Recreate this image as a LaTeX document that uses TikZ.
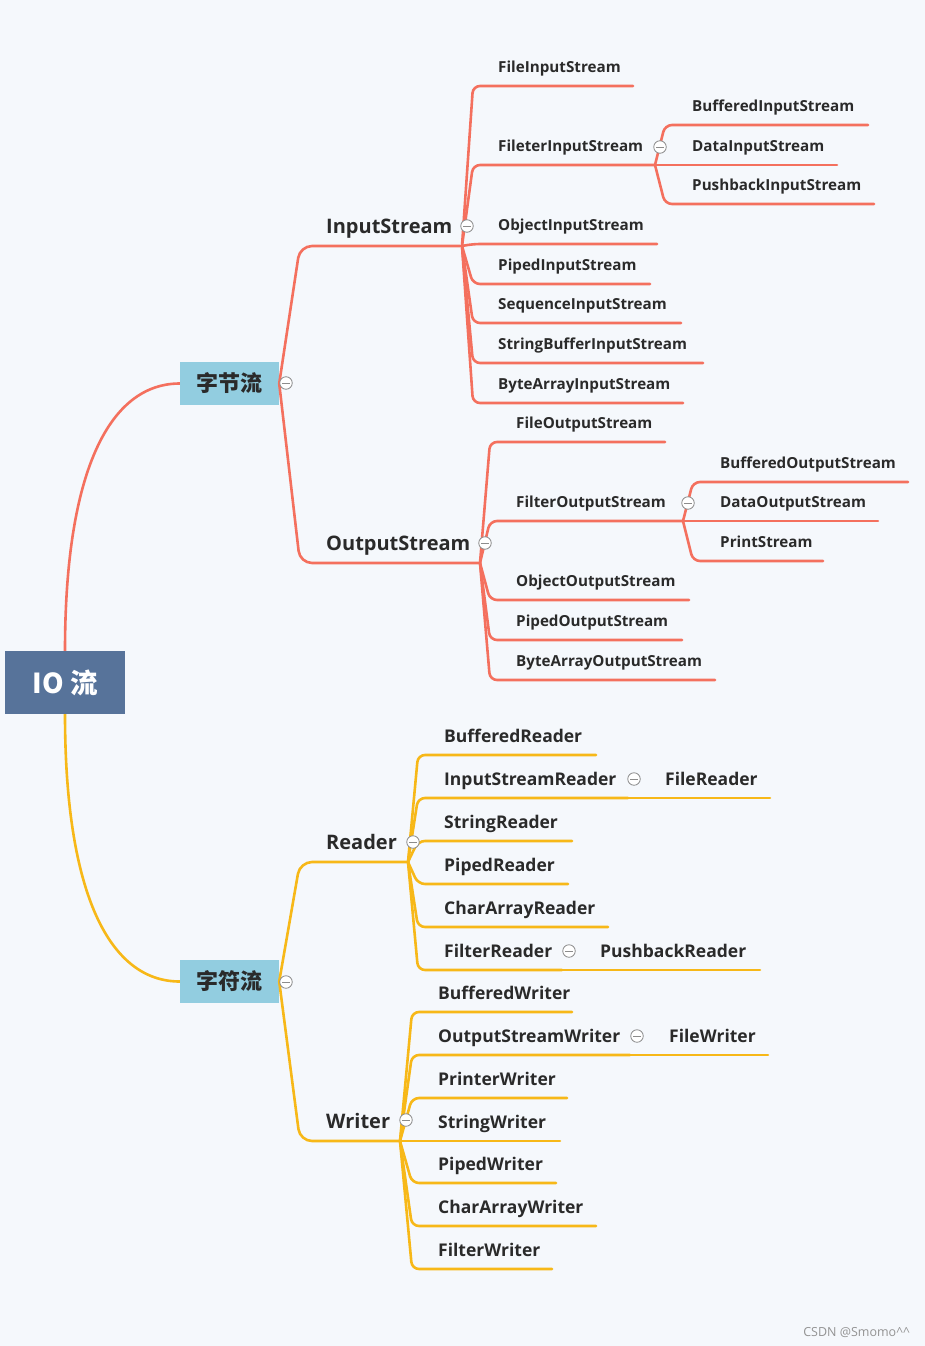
\documentclass[tikz,border=0pt]{standalone}
\usepackage{fontspec}
\setmainfont{Open Sans}
\newfontfamily\cjk{Noto Sans CJK SC}
\definecolor{bg}{HTML}{F5F8FC}
\definecolor{redl}{HTML}{F4705E}
\definecolor{yell}{HTML}{F7B818}
\definecolor{rootc}{HTML}{57739A}
\definecolor{boxc}{HTML}{92CDE0}
\definecolor{txtc}{HTML}{2A2A2A}
\definecolor{colc}{HTML}{8C8C8C}
\newcommand\leaf[8]{%
  \coordinate (#1s) at (#3,#4);
  \coordinate (#1e) at (#5,#4);
  \draw[br] (#2) -- (#1s) -- (#1e);
  \node[lbl, anchor=base west] (#1) at (#6,#4-#7) {#8};}
\newcommand\tailleaf[7]{% name, from, endx, uy, textx, offset, text
  \coordinate (#1e) at (#3,#4);
  \draw[br, sharp corners] (#2) -- (#1e);
  \node[lbl, anchor=base west] (#1) at (#5,#4-#6) {#7};}
\begin{document}
\begin{tikzpicture}[x=1pt,y=-1pt,
  br/.style={line width=2.6pt, rounded corners=7pt, line cap=round, draw=redl},
  lbl/.style={inner sep=0pt, text=txtc, font=\bfseries\fontsize{15.2}{15.2}\selectfont},
  col/.style={circle, draw=colc, fill=white, line width=0.8pt, minimum size=12.5pt, inner sep=0pt,
    path picture={\draw[colc, line width=0.9pt] ([xshift=-3.8pt]path picture bounding box.center) -- ([xshift=3.8pt]path picture bounding box.center);}},
  sub/.style={rectangle, fill=boxc, minimum width=99pt, minimum height=43pt, inner sep=0pt,
    text=txtc, font=\cjk\bfseries\fontsize{22}{22}\selectfont}]
\fill[bg] (0,0) rectangle (925,1346);
\useasboundingbox (0,0) rectangle (925,1346);

% root and second level boxes
\node[rectangle, fill=rootc, minimum width=120pt, minimum height=63pt, inner sep=0pt,
  text=white, font=\cjk\bfseries\fontsize{27.5}{27.5}\selectfont] (root) at (65,682.5) {IO 流};
\node[sub] (byte) at (229.5,383.5) {字节流};
\node[sub] (char) at (229.5,981.5) {字符流};

\draw[line width=2.6pt, redl] (root.north) .. controls (65,470) and (110,383.5) .. (byte.west);
\draw[line width=2.6pt, yell] (root.south) .. controls (65,895) and (110,981.5) .. (char.west);

% ---------- byte streams ----------
\begin{scope}[lbl/.append style={font=\bfseries\fontsize{20}{20}\selectfont}, br/.append style={rounded corners=12pt}]
\leaf{ins}{byte.east}{300}{246}{460}{326}{13}{InputStream}
\leaf{outs}{byte.east}{300}{563}{480}{326}{13}{OutputStream}
\end{scope}

\coordinate (insp) at (462,246);
\leaf{fis}{insp}{473}{86}{633}{498}{14}{FileInputStream}
\leaf{ftis}{insp}{473}{165}{655}{498}{14}{FileterInputStream}
\leaf{ois}{insp}{473}{244}{657}{498}{14}{ObjectInputStream}
\leaf{pis}{insp}{473}{284}{650}{498}{14}{PipedInputStream}
\leaf{sis}{insp}{473}{323}{681}{498}{14}{SequenceInputStream}
\leaf{sbis}{insp}{473}{363}{703}{498}{14}{StringBufferInputStream}
\leaf{bais}{insp}{473}{403}{683}{498}{14}{ByteArrayInputStream}

\leaf{bis}{ftise}{665}{125}{868}{692}{14}{BufferedInputStream}
\leaf{dis}{ftise}{665}{165}{837}{692}{14}{DataInputStream}
\leaf{pbis}{ftise}{665}{204}{874}{692}{14}{PushbackInputStream}

\coordinate (outsp) at (480,563);
\leaf{fos}{outsp}{490}{442}{665}{516}{14}{FileOutputStream}
\leaf{flos}{outsp}{490}{521}{683}{516}{14}{FilterOutputStream}
\leaf{oos}{outsp}{490}{600}{689}{516}{14}{ObjectOutputStream}
\leaf{pos}{outsp}{490}{640}{682}{516}{14}{PipedOutputStream}
\leaf{baos}{outsp}{490}{680}{715}{516}{14}{ByteArrayOutputStream}

\leaf{bos}{flose}{693}{482}{908}{720}{14}{BufferedOutputStream}
\leaf{dos}{flose}{693}{521}{878}{720}{14}{DataOutputStream}
\leaf{ps}{flose}{693}{561}{823}{720}{14}{PrintStream}

% ---------- char streams ----------
\begin{scope}[br/.append style={draw=yell}]
\begin{scope}[lbl/.append style={font=\bfseries\fontsize{20}{20}\selectfont}, br/.append style={rounded corners=12pt}]
\leaf{rd}{char.east}{300}{862}{408}{326}{13}{Reader}
\leaf{wr}{char.east}{300}{1141}{400}{326}{13}{Writer}
\end{scope}
\begin{scope}[lbl/.append style={font=\bfseries\fontsize{17.5}{17.5}\selectfont}]
\coordinate (rdp) at (408,862);
\leaf{brd}{rdp}{418}{755}{596}{444}{13}{BufferedReader}
\leaf{isr}{rdp}{418}{798}{628}{444}{13}{InputStreamReader}
\tailleaf{frd}{isre}{770}{798}{665}{13}{FileReader}
\leaf{srd}{rdp}{418}{841}{572}{444}{13}{StringReader}
\leaf{prd}{rdp}{418}{884}{568}{444}{13}{PipedReader}
\leaf{card}{rdp}{418}{927}{608}{444}{13}{CharArrayReader}
\leaf{ftrd}{rdp}{418}{970}{562}{444}{13}{FilterReader}
\tailleaf{pbrd}{ftrde}{760}{970}{600}{13}{PushbackReader}

\coordinate (wrp) at (400,1141);
\leaf{bw}{wrp}{412}{1012}{572}{438}{13}{BufferedWriter}
\leaf{osw}{wrp}{412}{1055}{630}{438}{13}{OutputStreamWriter}
\tailleaf{fw}{oswe}{768}{1055}{669}{13}{FileWriter}
\leaf{prw}{wrp}{412}{1098}{567}{438}{13}{PrinterWriter}
\leaf{sw}{wrp}{412}{1141}{560}{438}{13}{StringWriter}
\leaf{pdw}{wrp}{412}{1183}{556}{438}{13}{PipedWriter}
\leaf{caw}{wrp}{412}{1226}{596}{438}{13}{CharArrayWriter}
\leaf{ftw}{wrp}{412}{1269}{552}{438}{13}{FilterWriter}
\end{scope}
\end{scope}

% collapse markers
\node[col] (c1) at (286,383) {};
\node[col] (c2) at (286,982) {};
\node[col] (c3) at (467,226) {};
\node[col] (c4) at (660,147) {};
\node[col] (c5) at (485,543) {};
\node[col] (c6) at (688,503) {};
\node[col] (c7) at (413,842) {};
\node[col] (c8) at (406,1120) {};
\node[col] (c9) at (634,779) {};
\node[col] (c10) at (569,951) {};
\node[col] (c11) at (637,1036) {};

\node[inner sep=0pt, text=gray!85, font=\fontsize{12.5}{12.5}\selectfont, anchor=base east] (wm) at (910,1336) {CSDN @Smomo\textasciicircum\textasciicircum};
\end{tikzpicture}
\end{document}
